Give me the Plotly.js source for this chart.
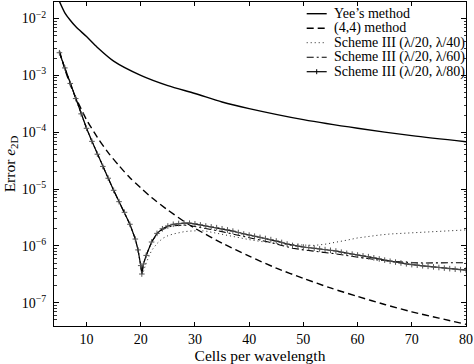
<!DOCTYPE html>
<html>
<head>
<meta charset="utf-8">
<script src="https://cdn.plot.ly/plotly-3.0.1.min.js"></script>
<style>html,body{margin:0;padding:0;background:#fff;}#chart{width:474px;height:364px;}</style>
</head>
<body>
<div id="chart"></div>
<script>
// Cells per wavelength and error values
const yeeN = [5, 6, 7, 8, 10, 12, 15, 20, 25, 30, 35, 40, 50, 60, 70, 80];
const yeeE = [2.0e-2, 1.26e-2, 9.3e-3, 7.2e-3, 4.8e-3, 3.1e-3, 1.78e-3, 1.0e-3, 6.6e-4, 4.8e-4, 3.4e-4, 2.6e-4, 1.66e-4, 1.17e-4, 8.7e-5, 6.8e-5];

const fourN = [5, 6, 7, 8, 9, 10, 12, 14, 16, 18, 20, 22, 25, 28, 30, 35, 40, 45, 50, 55, 60, 65, 70, 75, 80];
const fourE = [2.69e-3, 1.29e-3, 6.92e-4, 4.07e-4, 2.57e-4, 1.66e-4, 8.13e-5, 4.37e-5, 2.57e-5, 1.58e-5, 1.05e-5, 7.08e-6, 4.27e-6, 2.69e-6, 2.04e-6, 1.12e-6, 6.61e-7, 4.07e-7, 2.69e-7, 1.82e-7, 1.29e-7, 9.33e-8, 6.92e-8, 5.37e-8, 4.17e-8];

// Shared part of the three Scheme III curves (identical up to the dip)
const sharedN = [5, 6, 7, 8, 9, 10, 11, 12, 13, 14, 15, 16, 17, 18, 19, 19.5, 20, 20.2];
const sharedE = [2.5e-3, 1.35e-3, 7.2e-4, 3.9e-4, 2.1e-4, 1.17e-4, 6.9e-5, 4.1e-5, 2.5e-5, 1.55e-5, 9.5e-6, 6.0e-6, 3.9e-6, 2.4e-6, 1.32e-6, 8.5e-7, 4.5e-7, 3.2e-7];

const s40N = [20.5, 21, 22, 23, 24, 25, 26, 27, 28, 29, 30, 31, 32, 33, 34, 35, 36, 37, 38, 39, 40, 42, 44, 46, 48, 50, 52, 54, 56, 58, 60, 62, 64, 66, 68, 70, 72, 74, 76, 78, 80];
const s40E = [3.55e-7, 5.01e-7, 8.32e-7, 1.10e-6, 1.35e-6, 1.51e-6, 1.62e-6, 1.72e-6, 1.78e-6, 1.82e-6, 1.86e-6, 1.86e-6, 1.82e-6, 1.74e-6, 1.66e-6, 1.58e-6, 1.51e-6, 1.45e-6, 1.38e-6, 1.33e-6, 1.29e-6, 1.20e-6, 1.135e-6, 1.08e-6, 1.05e-6, 1.035e-6, 1.02e-6, 1.07e-6, 1.15e-6, 1.26e-6, 1.38e-6, 1.48e-6, 1.55e-6, 1.62e-6, 1.66e-6, 1.72e-6, 1.76e-6, 1.80e-6, 1.84e-6, 1.88e-6, 1.91e-6];

const s60N = [20.5, 21, 22, 23, 24, 25, 26, 27, 28, 29, 30, 31, 32, 33, 34, 35, 36, 37, 38, 39, 40, 42, 44, 46, 48, 50, 52, 54, 56, 58, 60, 62, 64, 66, 68, 70, 72, 74, 76, 78, 80];
const s60E = [4.8e-7, 6.8e-7, 1.17e-6, 1.62e-6, 1.95e-6, 2.14e-6, 2.26e-6, 2.32e-6, 2.32e-6, 2.29e-6, 2.21e-6, 2.11e-6, 2.02e-6, 1.95e-6, 1.86e-6, 1.78e-6, 1.70e-6, 1.62e-6, 1.53e-6, 1.45e-6, 1.38e-6, 1.26e-6, 1.15e-6, 1.02e-6, 9.12e-7, 8.51e-7, 8.13e-7, 7.76e-7, 7.24e-7, 6.76e-7, 6.31e-7, 5.96e-7, 5.62e-7, 5.37e-7, 5.19e-7, 5.07e-7, 5.01e-7, 5.01e-7, 5.01e-7, 5.01e-7, 5.07e-7];

const s80N = [20.5, 21, 22, 23, 24, 25, 26, 27, 28, 29, 30, 31, 32, 33, 34, 35, 36, 37, 38, 39, 40, 41, 42, 43, 44, 45, 46, 47, 48, 49, 50, 51, 52, 53, 54, 55, 56, 57, 58, 59, 60, 61, 62, 63, 64, 65, 66, 67, 68, 69, 70, 71, 72, 73, 74, 75, 76, 77, 78, 79, 80];
const s80E = [4.8e-7, 6.8e-7, 1.17e-6, 1.66e-6, 2.0e-6, 2.24e-6, 2.40e-6, 2.48e-6, 2.51e-6, 2.51e-6, 2.45e-6, 2.34e-6, 2.24e-6, 2.16e-6, 2.09e-6, 2.0e-6, 1.91e-6, 1.82e-6, 1.72e-6, 1.62e-6, 1.55e-6, 1.48e-6, 1.41e-6, 1.35e-6, 1.29e-6, 1.22e-6, 1.15e-6, 1.08e-6, 1.02e-6, 9.9e-7, 9.55e-7, 9.33e-7, 9.12e-7, 8.85e-7, 8.61e-7, 8.36e-7, 8.13e-7, 7.76e-7, 7.41e-7, 7.16e-7, 6.92e-7, 6.68e-7, 6.46e-7, 6.17e-7, 5.89e-7, 5.62e-7, 5.37e-7, 5.19e-7, 5.01e-7, 4.84e-7, 4.68e-7, 4.57e-7, 4.47e-7, 4.37e-7, 4.27e-7, 4.17e-7, 4.07e-7, 3.98e-7, 3.89e-7, 3.82e-7, 3.76e-7];

const seriesNames = ["Yee\u2019s method", "(4,4) method", "Scheme III (\u03bb/20, \u03bb/40)", "Scheme III (\u03bb/20, \u03bb/60)", "Scheme III (\u03bb/20, \u03bb/80)"];

const xTickVals = [10, 20, 30, 40, 50, 60, 70, 80];
const yTickVals = [1e-7, 1e-6, 1e-5, 1e-4, 1e-3, 1e-2];
const yTickText = ["10<sup>\u22127</sup>", "10<sup>\u22126</sup>", "10<sup>\u22125</sup>", "10<sup>\u22124</sup>", "10<sup>\u22123</sup>", "10<sup>\u22122</sup>"];

const minorY = [];
for (let e = -8; e <= -2; e++) {
  for (let m = 2; m <= 9; m++) minorY.push(m * Math.pow(10, e));
}

const FONT = "Liberation Serif, Times New Roman, serif";

const lineStyles = [
  {color: "#000", width: 1.4},
  {color: "#000", width: 1.4, dash: "7px,4px"},
  {color: "#222", width: 1, dash: "1px,3px"},
  {color: "#000", width: 1.1, dash: "7px,3px,2px,3px"},
  {color: "#000", width: 1.2}
];

const traces = [
  {x: yeeN, y: yeeE, name: seriesNames[0], mode: "lines", line: Object.assign({shape: "spline", smoothing: 0.8}, lineStyles[0])},
  {x: fourN, y: fourE, name: seriesNames[1], mode: "lines", line: Object.assign({shape: "spline", smoothing: 0.8}, lineStyles[1])},
  {x: sharedN.concat(s40N), y: sharedE.concat(s40E), name: seriesNames[2], mode: "lines", line: lineStyles[2]},
  {x: sharedN.concat(s60N), y: sharedE.concat(s60E), name: seriesNames[3], mode: "lines", line: lineStyles[3]},
  {x: sharedN.concat(s80N), y: sharedE.concat(s80E), name: seriesNames[4], mode: "lines+markers", line: lineStyles[4],
   marker: {symbol: "cross-thin", size: 4, color: "#555", line: {color: "#555", width: 1}}}
];

// Compact legend (Plotly's built-in legend cannot be spaced this tightly)
const W = 474, H = 364, M = {l: 54, r: 8, t: 2, b: 38};
const pw = W - M.l - M.r, ph = H - M.t - M.b;
const px2x = p => (p - M.l) / pw;
const py2y = p => 1 - (p - M.t) / ph;
const legTop = 13.7, legStep = 14.5, legX0 = 306.7, legX1 = 326.7, legTextX = 333;
const shapes = [], annotations = [];
seriesNames.forEach((name, i) => {
  const yy = py2y(legTop + i * legStep);
  shapes.push({type: "line", xref: "paper", yref: "paper", x0: px2x(legX0), x1: px2x(legX1), y0: yy, y1: yy,
               line: lineStyles[i], layer: "above"});
  annotations.push({xref: "paper", yref: "paper", x: px2x(legTextX), y: yy, xanchor: "left", yanchor: "middle",
                    text: name, showarrow: false, font: {family: FONT, size: 14, color: "#000"}, borderpad: 0});
});
// "+" symbol on the last legend sample
{
  const cx = (legX0 + legX1) / 2, cy = legTop + 4 * legStep;
  shapes.push({type: "line", xref: "paper", yref: "paper", x0: px2x(cx), x1: px2x(cx), y0: py2y(cy - 2.5), y1: py2y(cy + 2.5),
               line: {color: "#000", width: 1}});
}

const layout = {
  width: W, height: H,
  margin: M,
  paper_bgcolor: "#fff", plot_bgcolor: "#fff",
  font: {family: FONT, size: 14, color: "#000"},
  showlegend: false,
  shapes: shapes,
  annotations: annotations,
  xaxis: {
    range: [4, 80], tickmode: "array", tickvals: xTickVals,
    showline: true, linecolor: "#000", linewidth: 1, mirror: "allticks",
    ticks: "inside", ticklen: 4, tickcolor: "#000", tickwidth: 1,
    showgrid: false, zeroline: false,
    tickfont: {family: FONT, size: 14, color: "#000"},
    title: {text: "Cells per wavelength", font: {family: FONT, size: 15.5, color: "#000"}, standoff: 5}
  },
  yaxis: {
    type: "log", range: [-7.409, -1.71], tickmode: "array", tickvals: yTickVals, ticktext: yTickText,
    showline: true, linecolor: "#000", linewidth: 1, mirror: "allticks",
    ticks: "inside", ticklen: 5, tickcolor: "#000", tickwidth: 1,
    minor: {tickmode: "array", tickvals: minorY, ticks: "inside", ticklen: 2.5, tickcolor: "#000", tickwidth: 0.8, showgrid: false},
    showgrid: false, zeroline: false, ticklabelstandoff: 4,
    tickfont: {family: FONT, size: 14, color: "#000"},
    title: {text: "Error <i>e</i><sub>2D</sub>", font: {family: FONT, size: 15.5, color: "#000"}, standoff: 2}
  }
};

Plotly.newPlot("chart", traces, layout, {displayModeBar: false, staticPlot: true});
</script>
</body>
</html>
